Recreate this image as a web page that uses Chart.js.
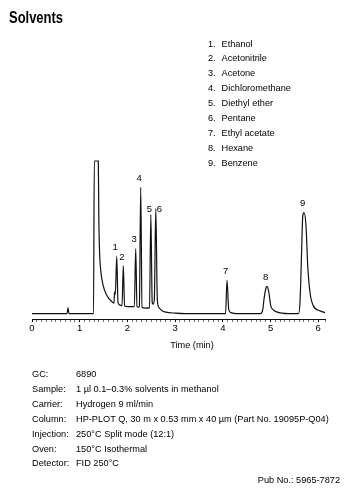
<!DOCTYPE html>
<html>
<head>
<meta charset="utf-8">
<script src="https://cdn.jsdelivr.net/npm/chart.js@4.4.1/dist/chart.umd.min.js"></script>
<style>
  body { margin: 0; background: #fff; }
  #page { position: relative; width: 361px; height: 488px; overflow: hidden;
          font-family: "Liberation Sans", Arial, sans-serif; color: #000; white-space: nowrap; }
  #chart { position: absolute; left: 0; top: 0; }
  .title { position: absolute; left: 9px; top: 9px; font-size: 16px; font-weight: bold;
           transform: scaleX(0.81); transform-origin: 0 0; }
  .peaks { position: absolute; left: 208px; top: 36.5px; font-size: 9.2px; line-height: 14.9px; }
  .peaks span { display: inline-block; width: 13.5px; }
  .xtitle { position: absolute; left: 142px; width: 100px; top: 339.5px; text-align: center; font-size: 9.2px; }
  .info { position: absolute; left: 32px; top: 367px; font-size: 9.2px; line-height: 14.9px; }
  .info span { display: inline-block; width: 44px; }
  .pub { position: absolute; right: 21px; top: 474.5px; font-size: 9.2px; }
</style>
</head>
<body>
<div id="page">
  <canvas id="chart" width="361" height="345"></canvas>
  <div class="title">Solvents</div>
  <div class="peaks" id="peaks"></div>
  <div class="xtitle">Time (min)</div>
  <div class="info" id="info"></div>
  <div class="pub">Pub No.: 5965-7872</div>
</div>
<script>
// chromatogram trace (time in min, signal above baseline)
const traceTimes = [0, 0.735, 0.755, 0.775, 1.289, 1.306, 1.39, 1.4, 1.415, 1.44, 1.488, 1.572, 1.677, 1.719,
  1.73, 1.746, 1.776, 1.803, 1.845, 1.887, 1.914, 1.941, 2.013, 2.145, 2.174, 2.201, 2.233,
  2.25, 2.279, 2.306, 2.369, 2.463, 2.491, 2.52, 2.537, 2.564, 2.595, 2.627, 2.662, 2.725, 2.809, 2.998, 3.21,
  4.057, 4.088, 4.124, 4.172, 4.277,
  4.79, 4.837, 4.864, 4.906, 4.927, 4.962, 5.004, 5.052, 5.13, 5.241, 5.367,
  5.587, 5.618, 5.65, 5.675, 5.702, 5.744, 5.78, 5.828, 5.897, 6.038, 6.143];
const traceSignal = [0, 0, 6, 0, 0, 153.5, 153.5, 100, 64, 44, 29, 18, 12, 10.5,
  22, 19, 57.5, 11, 8.5, 8, 48, 8, 7, 7, 65.5, 7, 6.5,
  7, 127, 6.5, 5.5, 6, 99.5, 11, 9.5, 14, 105.5, 14, 6, 3, 1.5, 0.5, 0,
  0, 33.5, 4, 1, 0,
  0, 4, 15, 26, 27.5, 22, 8, 4, 1.8, 0.5, 0,
  0, 12, 60, 97.8, 101.5, 87.8, 47.8, 21, 7.8, 2.8, 1];

// numbered peaks
const peakNumbers = [1, 2, 3, 4, 5, 6, 7, 8, 9];
const peakNames = ['Ethanol', 'Acetonitrile', 'Acetone', 'Dichloromethane', 'Diethyl ether',
  'Pentane', 'Ethyl acetate', 'Hexane', 'Benzene'];
const peakTimes = [1.776, 1.914, 2.174, 2.279, 2.491, 2.595, 4.088, 4.927, 5.702];
const peakHeights = [57.5, 48, 65.5, 127, 99.5, 105.5, 33.5, 27.5, 101.5];

// x axis
const xMin = 0;
const xMax = 6.15;

// method conditions
const infoLabels = ['GC:', 'Sample:', 'Carrier:', 'Column:', 'Injection:', 'Oven:', 'Detector:'];
const infoValues = ['6890', '1 \u00b5l 0.1\u20130.3% solvents in methanol', 'Hydrogen 9 ml/min',
  'HP-PLOT Q, 30 m x 0.53 mm x 40 \u00b5m (Part No. 19095P-Q04)', '250\u00b0C Split mode (12:1)',
  '150\u00b0C Isothermal', 'FID 250\u00b0C'];

document.getElementById('peaks').innerHTML = peakNumbers
  .map((n, i) => '<div><span>' + n + '.</span>' + peakNames[i] + '</div>').join('');
document.getElementById('info').innerHTML = infoLabels
  .map((l, i) => '<div><span>' + l + '</span>' + infoValues[i] + '</div>').join('');

// small nudges so labels 5 and 6 sit side by side like the original
const labelNudge = { 5: [0, 4], 6: [5, 10] };

const peakLabels = {
  id: 'peakLabels',
  afterDatasetsDraw(chart) {
    const { ctx, scales } = chart;
    ctx.save();
    ctx.font = '9.5px "Liberation Sans", Arial, sans-serif';
    ctx.fillStyle = '#000';
    ctx.textAlign = 'center';
    ctx.textBaseline = 'middle';
    peakNumbers.forEach((n, i) => {
      const nudge = labelNudge[n] || [0, 0];
      const x = scales.x.getPixelForValue(peakTimes[i]) - 1.5 + nudge[0];
      const y = scales.y.getPixelForValue(peakHeights[i]) - 9 + nudge[1];
      ctx.fillText(String(n), x, y);
    });
    ctx.restore();
  }
};

const isWhole = v => Math.abs(v - Math.round(v)) < 1e-6;

new Chart(document.getElementById('chart'), {
  type: 'line',
  data: {
    datasets: [{
      data: traceTimes.map((t, i) => ({ x: t, y: traceSignal[i] })),
      borderColor: '#111',
      borderWidth: 1.2,
      pointRadius: 0,
      cubicInterpolationMode: 'monotone',
      clip: false
    }]
  },
  options: {
    responsive: false,
    animation: false,
    events: [],
    layout: { padding: { top: 159.5, left: 32, right: 35.6, bottom: 9.5 } },
    plugins: { legend: { display: false }, tooltip: { enabled: false } },
    scales: {
      x: {
        type: 'linear',
        min: xMin,
        max: xMax,
        border: { display: true, color: '#111', width: 1 },
        grid: {
          drawOnChartArea: false,
          tickLength: 3,
          tickColor: c => (c.tick && isWhole(c.tick.value)) ? '#111' : '#777'
        },
        ticks: {
          stepSize: 0.1,
          autoSkip: false,
          maxRotation: 0,
          padding: 1,
          color: '#000',
          font: { family: '"Liberation Sans", Arial, sans-serif', size: 9.5 },
          callback: v => isWhole(v) ? String(Math.round(v)) : ''
        }
      },
      y: { display: false, min: -5.5, max: 155 }
    }
  },
  plugins: [peakLabels]
});
</script>
</body>
</html>
